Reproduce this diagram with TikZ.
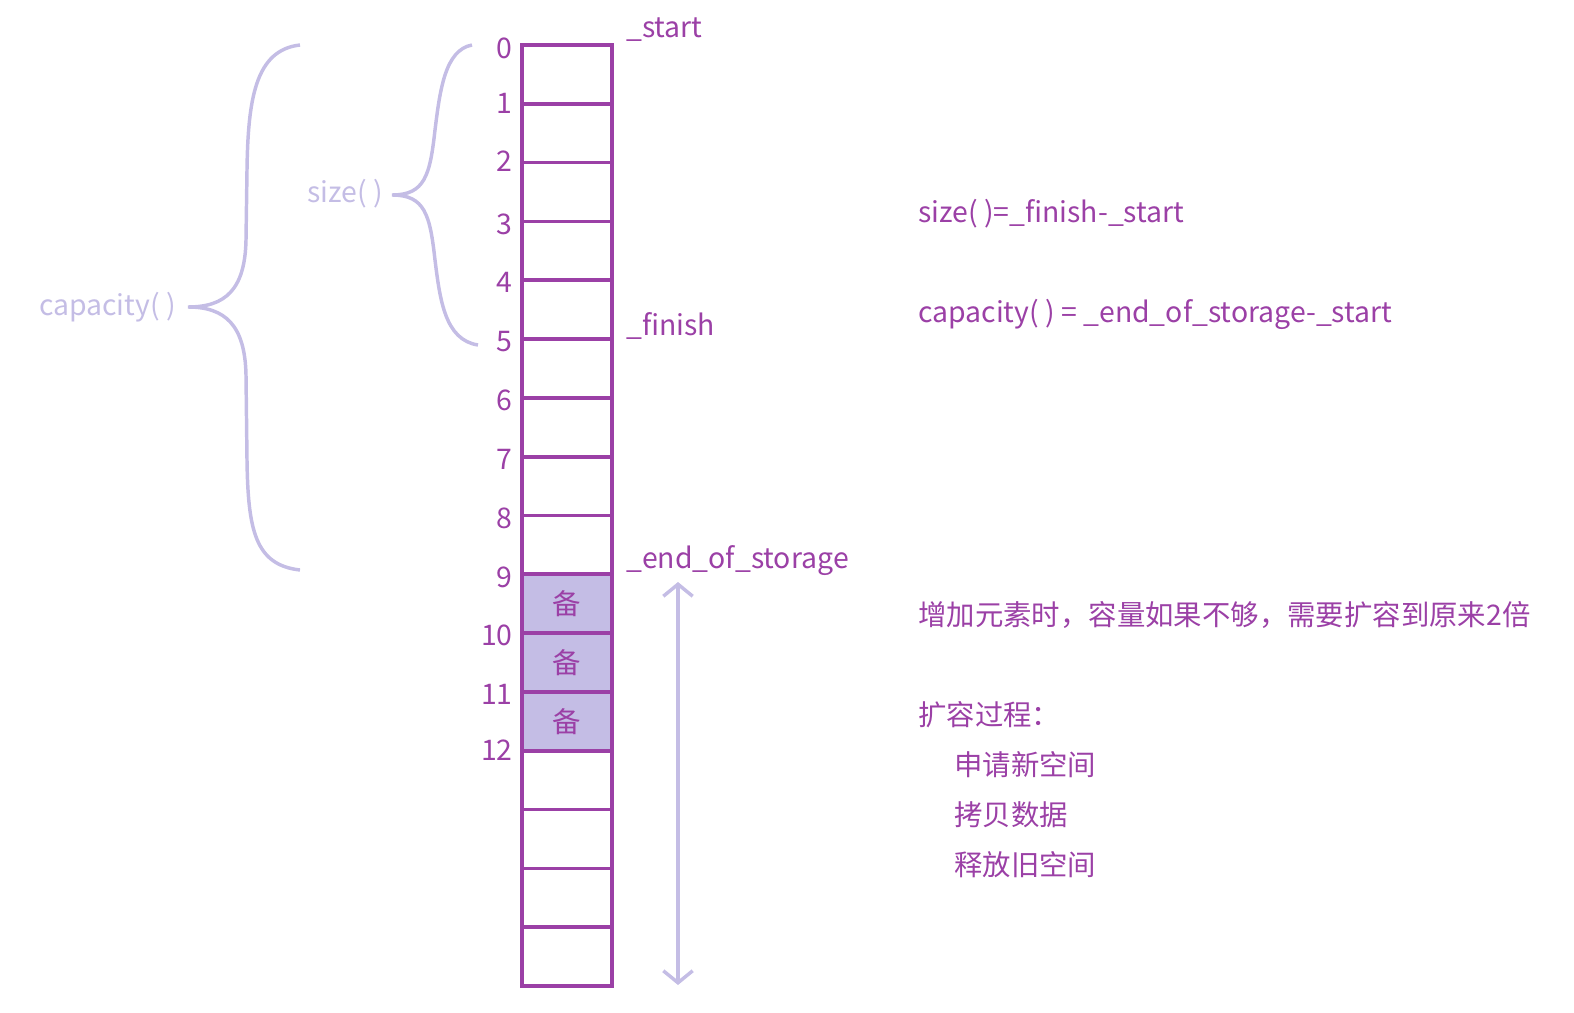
\documentclass[tikz,border=0pt]{standalone}
\usepackage{fontspec}
\setmainfont{Noto Sans CJK SC}
\usetikzlibrary{arrows.meta}
\definecolor{pp}{HTML}{9B40A6}
\definecolor{lv}{HTML}{C4BDE5}
\tikzset{
 cell/.style={draw=pp,line width=2.8pt,minimum width=67.5pt,minimum height=44.1pt,inner sep=0pt,outer sep=0pt},
 lbl/.style={text=pp,font=\fontsize{21.3}{25}\selectfont,inner sep=0pt},
 llbl/.style={text=lv,font=\fontsize{21.3}{25}\selectfont,inner sep=0pt},
 brace/.style={draw=lv,line width=2.6pt},
}
\begin{document}
\begin{tikzpicture}[x=0.75pt,y=-0.75pt]
\useasboundingbox (0,0) rectangle (1574,1013);
\foreach \i in {0,...,15}{
  \pgfmathsetmacro\yy{45+\i*58.8125}
  \ifnum\i>8 \ifnum\i<12
    \node[cell,fill=lv,anchor=north west] (c\i) at (522,\yy) {\textcolor{pp}{\fontsize{21.3}{25}\selectfont 备}};
  \else
    \node[cell,anchor=north west] (c\i) at (522,\yy) {};
  \fi\else
    \node[cell,anchor=north west] (c\i) at (522,\yy) {};
  \fi
}
\foreach \n/\y in {0/48,1/103,2/161,3/224,4/282,5/342,6/400,7/459,8/518,9/577,10/635,11/694,12/750}{
  \node[lbl,anchor=east] (n\n) at (513,\y) {\n};
}
\node[lbl,anchor=west] (ps) at (626,30) {\_start};
\node[lbl,anchor=west] (pf) at (626,326) {\_finish};
\node[lbl,anchor=west] (pe) at (626,561) {\_end\_of\_storage};
\node[llbl,anchor=east] (ls) at (383,194) {size( )};
\node[llbl,anchor=east] (lc) at (176,307) {capacity( )};
\draw[brace] (472,45) .. controls (445,50) and (440,90) .. (435,130) .. controls (430,175) and (425,195) .. (392,195) .. controls (425,195) and (430,215) .. (435,260) .. controls (440,300) and (445,340) .. (478,345);
\draw[brace] (300,45) .. controls (255,50) and (248,100) .. (247,170) -- (246,240) .. controls (245,290) and (225,307) .. (188,307) .. controls (225,307) and (245,325) .. (246,375) -- (247,460) .. controls (248,530) and (255,565) .. (300,570);
\coordinate (at) at (678,582);
\coordinate (ab) at (678,985);
\draw[draw=lv,line width=2.6pt,{Straight Barb[length=9pt,width=22pt]}-{Straight Barb[length=9pt,width=22pt]}] (at) -- (ab);
\node[lbl,anchor=west] (t1) at (918,214) {size( )=\_finish-\_start};
\node[lbl,anchor=west] (t2) at (918,314) {capacity( ) = \_end\_of\_storage-\_start};
\node[lbl,anchor=west] (t3) at (918,615) {增加元素时，容量如果不够，需要扩容到原来2倍};
\node[lbl,anchor=west] (t4) at (918,715) {扩容过程：};
\node[lbl,anchor=west] (t5) at (954,765) {申请新空间};
\node[lbl,anchor=west] (t6) at (954,815) {拷贝数据};
\node[lbl,anchor=west] (t7) at (954,865) {释放旧空间};
\end{tikzpicture}
\end{document}
